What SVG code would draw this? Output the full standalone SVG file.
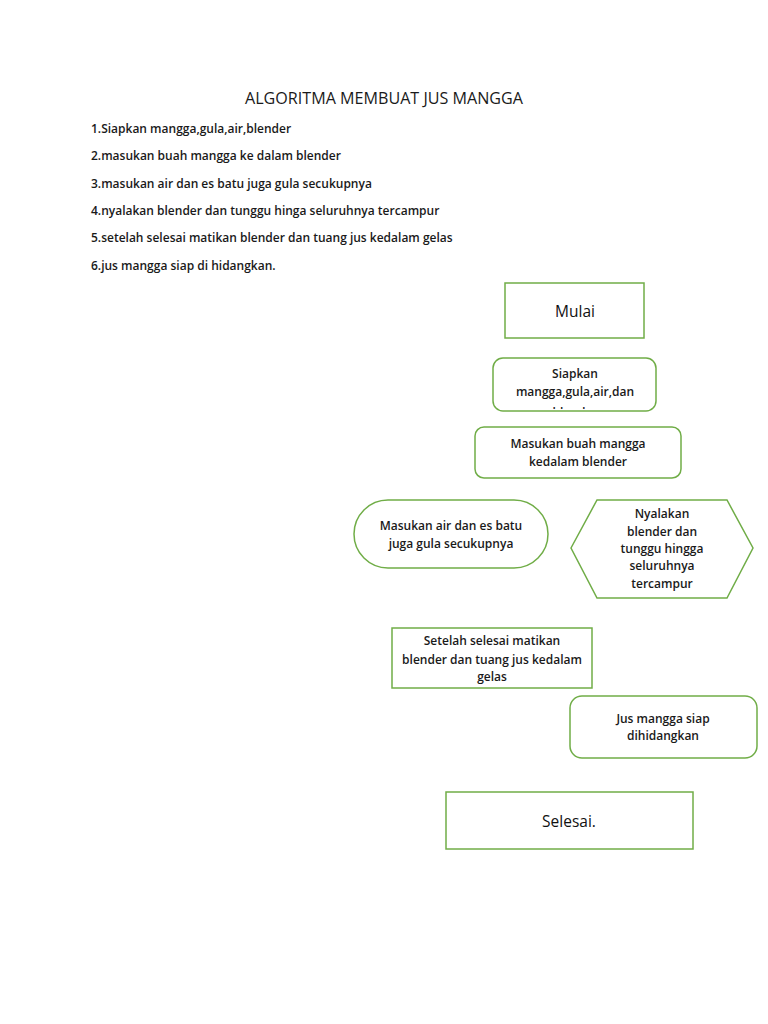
<svg xmlns="http://www.w3.org/2000/svg" width="768" height="1024" viewBox="0 0 768 1024">
<style>
.t{font-family:"Open Sans","Liberation Sans",sans-serif;fill:#1a1a1a}
.title{font-size:15.5px;font-weight:400}
.li{font-size:12px;font-weight:600}
.b{font-size:12px;font-weight:600;text-anchor:middle}
.big{font-size:15.5px;font-weight:500;text-anchor:middle;fill:#111}
.s{fill:#fff;stroke:#70AD47;stroke-width:1.5}
</style>
<defs>
<clipPath id="c2"><rect x="494" y="359" width="161" height="50"/></clipPath>
</defs>
<rect width="768" height="1024" fill="#fff"/>
<g id="header">
<text class="t title" x="245" y="104" textLength="278" lengthAdjust="spacingAndGlyphs">ALGORITMA MEMBUAT JUS MANGGA</text>
<text class="t li" x="91" y="133">1.Siapkan mangga,gula,air,blender</text>
<text class="t li" x="91" y="160">2.masukan buah mangga ke dalam blender</text>
<text class="t li" x="91" y="188">3.masukan air dan es batu juga gula secukupnya</text>
<text class="t li" x="91" y="215">4.nyalakan blender dan tunggu hinga seluruhnya tercampur</text>
<text class="t li" x="91" y="242">5.setelah selesai matikan blender dan tuang jus kedalam gelas</text>
<text class="t li" x="91" y="270">6.jus mangga siap di hidangkan.</text>
</g>
<g id="connectors"></g>
<g id="mulai">
<rect class="s" x="505" y="283" width="139" height="55"/>
<text class="t big" x="575" y="317">Mulai</text>
</g>
<g id="siapkan">
<rect class="s" x="493" y="358" width="163" height="53" rx="10"/>
<g clip-path="url(#c2)">
<text class="t b" x="575" y="378">Siapkan</text>
<text class="t b" x="575" y="396">mangga,gula,air,dan</text>
<text class="t b" x="575" y="417">blender</text>
</g>
</g>
<g id="masukan-buah">
<rect class="s" x="475" y="427" width="206" height="51" rx="9"/>
<text class="t b" x="578" y="448">Masukan buah mangga</text>
<text class="t b" x="578" y="466">kedalam blender</text>
</g>
<g id="masukan-air">
<rect class="s" x="354" y="500" width="194" height="68" rx="34"/>
<text class="t b" x="451" y="530">Masukan air dan es batu</text>
<text class="t b" x="451" y="548">juga gula secukupnya</text>
</g>
<g id="nyalakan">
<polygon class="s" points="571,548 597,500 727,500 753,548 727,598 597,598"/>
<text class="t b" x="662" y="518">Nyalakan</text>
<text class="t b" x="662" y="536">blender dan</text>
<text class="t b" x="662" y="553">tunggu hingga</text>
<text class="t b" x="662" y="570">seluruhnya</text>
<text class="t b" x="662" y="588">tercampur</text>
</g>
<g id="setelah">
<rect class="s" x="392" y="628" width="200" height="60"/>
<text class="t b" x="492" y="645">Setelah selesai matikan</text>
<text class="t b" x="492" y="664">blender dan tuang jus kedalam</text>
<text class="t b" x="492" y="681">gelas</text>
</g>
<g id="jus">
<rect class="s" x="570" y="696" width="187" height="62" rx="12"/>
<text class="t b" x="663" y="723">Jus mangga siap</text>
<text class="t b" x="663" y="740">dihidangkan</text>
</g>
<g id="selesai">
<rect class="s" x="446" y="792" width="247" height="57"/>
<text class="t big" x="569" y="827">Selesai.</text>
</g>
</svg>
